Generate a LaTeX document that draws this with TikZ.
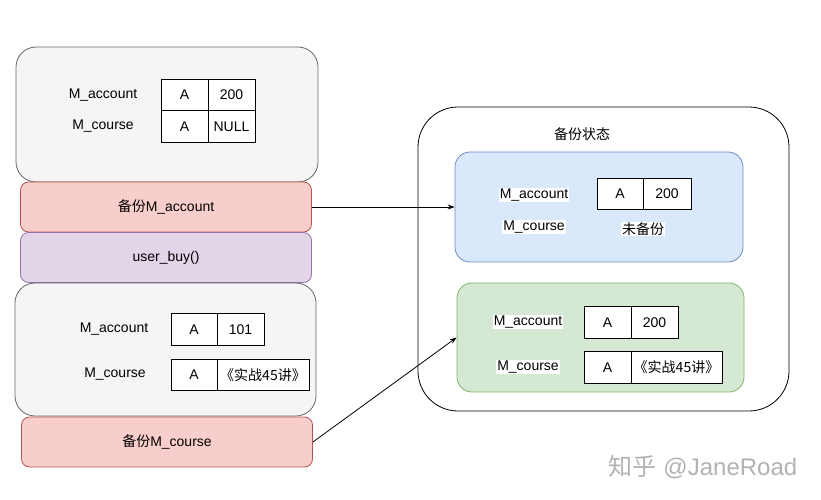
\documentclass[tikz,border=0pt]{standalone}
\usepackage{fontspec}
\setmainfont{Liberation Sans}
\newfontfamily\cjk{Noto Sans CJK SC}
\usepackage{tikz}
\usetikzlibrary{arrows.meta,positioning}
\definecolor{panelgray}{RGB}{245,245,245}
\definecolor{edgegray}{RGB}{102,102,102}
\definecolor{pinkfill}{RGB}{248,206,204}
\definecolor{pinkedge}{RGB}{184,84,80}
\definecolor{lilacfill}{RGB}{225,213,231}
\definecolor{lilacedge}{RGB}{150,115,166}
\definecolor{bluefill}{RGB}{218,232,252}
\definecolor{blueedge}{RGB}{108,142,191}
\definecolor{greenfill}{RGB}{213,232,212}
\definecolor{greenedge}{RGB}{130,179,102}
\tikzstyle{panel}=[draw=edgegray,fill=panelgray,rounded corners=20pt,inner sep=0pt]
\tikzstyle{stepbox}=[rounded corners=8pt,inner sep=0pt,minimum width=291pt,minimum height=50pt]
\tikzstyle{cell}=[draw,fill=white,inner sep=0pt,minimum height=31.5pt]
\tikzstyle{lbl}=[inner sep=1pt]
\tikzstyle{wlbl}=[inner sep=1pt,fill=white]

\begin{document}
\begin{tikzpicture}[
  x=1pt, y=-1pt,
  font=\fontsize{14}{16}\selectfont,
  line width=0.8pt,
]
\useasboundingbox (0,0) rectangle (821,500);
% left column
\node [panel, minimum width=302, minimum height=135] (before) at (167,114.5) {};
\node [lbl] (b1) at (103,95) {M\_account};
\node [lbl] (b2) at (103,126) {M\_course};
\node [cell, minimum width=47] (b1a) at (184.5,95) {A};
\node [cell, minimum width=47] (b1b) at (231.5,95) {200};
\node [cell, minimum width=47] (b2a) at (184.5,126.5) {A};
\node [cell, minimum width=47] (b2b) at (231.5,126.5) {NULL};

\node [stepbox, draw=pinkedge, fill=pinkfill] (bakacct) at (166,207) {{\cjk 备份}M\_account};
\node [stepbox, draw=lilacedge, fill=lilacfill] (buy) at (166,257.5) {user\_buy()};

\node [panel, minimum width=301, minimum height=133] (after) at (165.5,349.5) {};
\node [lbl] (a1) at (114,329) {M\_account};
\node [lbl] (a2) at (115,374) {M\_course};
\node [cell, minimum width=46] (a1a) at (194,329.5) {A};
\node [cell, minimum width=47] (a1b) at (240.5,329.5) {101};
\node [cell, minimum width=46] (a2a) at (194,375) {A};
\node [cell, minimum width=92] (a2b) at (263,375) {\cjk 《实战45讲》};

\node [stepbox, draw=pinkedge, fill=pinkfill] (bakcourse) at (167,442) {{\cjk 备份}M\_course};

% backup state
\node [draw, fill=white, rounded corners=40pt, minimum width=371, minimum height=304, inner sep=0pt] (state) at (603.5,259) {};
\node [lbl] (statetitle) at (582,134) {\cjk 备份状态};

\node [draw=blueedge, fill=bluefill, rounded corners=15pt, minimum width=288, minimum height=110, inner sep=0pt] (unbacked) at (599,207) {};
\node [wlbl] (u1) at (534,195) {M\_account};
\node [wlbl] (u2) at (534,227) {M\_course};
\node [cell, minimum width=46] (u1a) at (620,194) {A};
\node [cell, minimum width=48] (u1b) at (667,194) {200};
\node [wlbl] (u2b) at (643,229) {\cjk 未备份};

\node [draw=greenedge, fill=greenfill, rounded corners=15pt, minimum width=287, minimum height=109, inner sep=0pt] (backed) at (600.5,337.5) {};
\node [wlbl] (g1) at (528,322) {M\_account};
\node [wlbl] (g2) at (528,367) {M\_course};
\node [cell, minimum width=47] (g1a) at (607.5,322.5) {A};
\node [cell, minimum width=47] (g1b) at (654.5,322.5) {200};
\node [cell, minimum width=47] (g2a) at (607.5,367.5) {A};
\node [cell, minimum width=91] (g2b) at (676.5,367.5) {\cjk 《实战45讲》};

\draw [-{Stealth[length=7pt,width=5pt]}] (bakacct.east) -- (unbacked.west);
\draw [-{Stealth[length=7pt,width=5pt]}] (bakcourse.east) -- (backed.west);

\node [text=black!30, font=\fontsize{24}{26}\selectfont] (mark) at (703,467) {{\cjk 知乎} @JaneRoad};
\end{tikzpicture}
\end{document}
